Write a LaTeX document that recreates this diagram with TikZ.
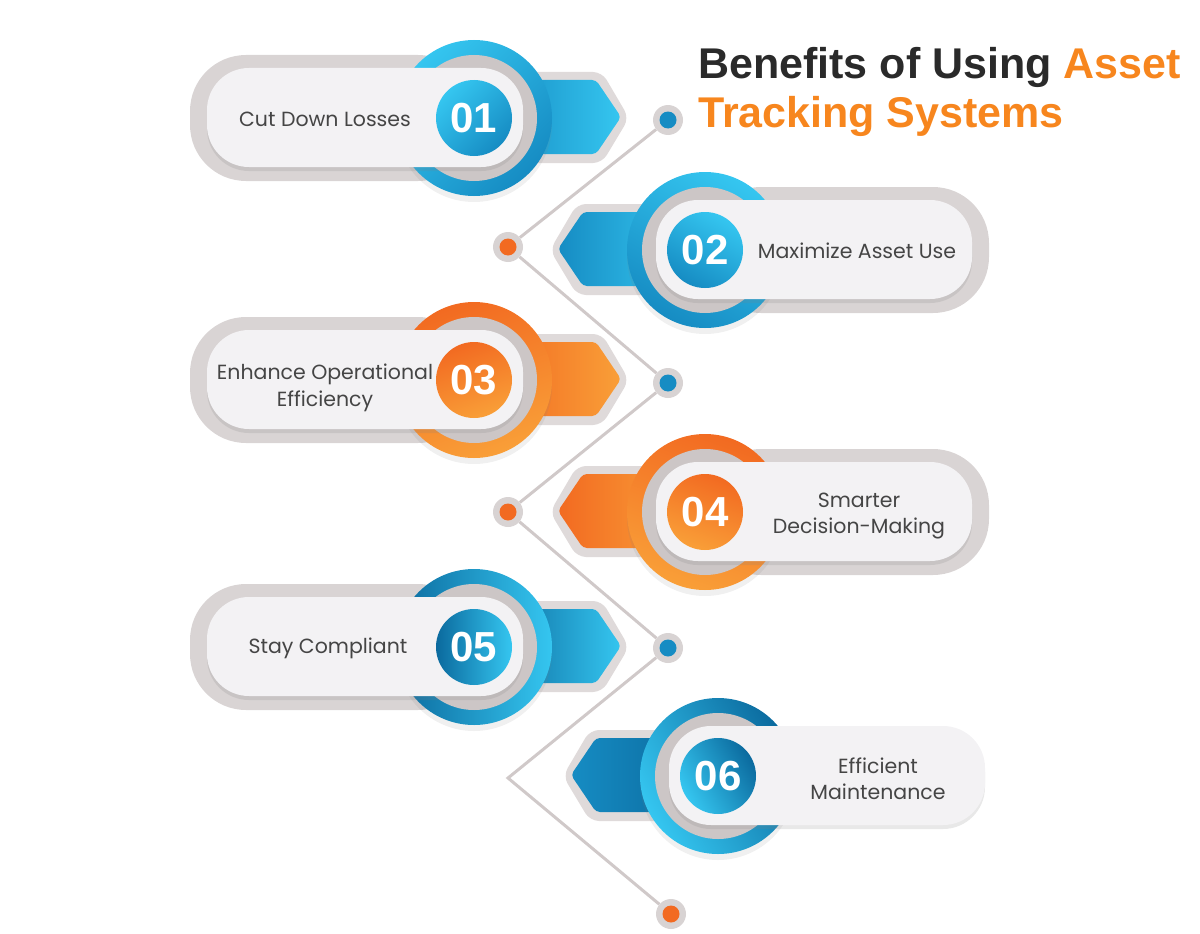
\documentclass[tikz,border=0pt]{standalone}
\usepackage{fontspec}
\setmainfont{Poppins}
\newfontfamily\headfont{Liberation Sans}
\usetikzlibrary{shadows,backgrounds}
\definecolor{skyL}{HTML}{35C6F0}
\definecolor{skyD}{HTML}{168CC3}
\definecolor{seaD}{HTML}{0B6A9E}
\definecolor{amberD}{HTML}{F26A21}
\definecolor{amberL}{HTML}{F99F38}
\definecolor{pillgray}{HTML}{D9D4D4}
\definecolor{discgray}{HTML}{CCC6C6}
\definecolor{boxwhite}{HTML}{F3F2F4}
\definecolor{linkgray}{HTML}{D0C9C9}
\definecolor{dotgray}{HTML}{D8D3D3}
\definecolor{ink}{HTML}{454545}
\definecolor{headink}{HTML}{2A2A2A}
\definecolor{hot}{HTML}{F7861E}
\begin{document}
\begin{tikzpicture}[x=1pt, y=-1pt, line join=round, line cap=round,
	link/.style={draw=linkgray, line width=3pt},
	dot/.style={circle, fill=dotgray, minimum size=30pt, inner sep=0pt,
		path picture={\fill[#1] (path picture bounding box.center) circle (8.5pt);}},
	pill/.style={fill=pillgray, rounded corners=56pt},
	tag/.style={fill=pillgray!85, rounded corners=9pt},
	box/.style={fill=boxwhite, rounded corners=42pt, drop shadow={opacity=.18, shadow xshift=0pt, shadow yshift=-4pt}},
	disc/.style={fill=discgray},
	num/.style={circle, minimum size=76pt, inner sep=0pt, text=white, font=\headfont\bfseries\fontsize{42}{42}\selectfont},
	label/.style={text=ink, align=center, font=\fontsize{20.5}{26.5}\selectfont},
	title/.style={anchor=base west, inner sep=0pt, font=\headfont\bfseries\fontsize{43}{43}\selectfont}]
\useasboundingbox (0,0) rectangle (1200,934);

% title
\node[title, text=headink] (head1) at (698,78) {Benefits of Using \textcolor{hot}{Asset}};
\node[title, text=hot] (head2) at (698,127) {Tracking Systems};

% dots of the zigzag
\foreach \name/\px/\py/\col in {d1/668/120/skyD, d2/508/247/amberD, d3/668/383/skyD, d4/508/512/amberD, d5/668/648/skyD, d7/671/914/amberD}
	\node[dot=\col] (\name) at (\px,\py) {};
\coordinate (d6) at (508,778);
\begin{scope}[on background layer]
	\draw[link] (d1) -- (d2) -- (d3) -- (d4) -- (d5) -- (d6) -- (d7);
\end{scope}

% the six items
\foreach \s/\cx/\cy/\ra/\rb/\ang/\near/\tip/\num/\dx/\dy/\pill/\txt in {
	1/474/118/skyL/skyD/45/skyD/skyL/01/-149/1/1/{Cut Down Losses},
	-1/705/250/skyL/skyD/-30/skyD/skyL/02/152/1/1/{Maximize Asset Use},
	1/474/380/amberD/amberL/20/amberD/amberL/03/-149/8/1/{Enhance Operational\\Efficiency},
	-1/705/512/amberD/amberL/-20/amberD/amberL/04/154/4/1/{Smarter\\Decision-Making},
	1/474/647/seaD/skyL/90/seaD/skyL/05/-146/1/1/{Stay Compliant},
	-1/718/776/seaD/skyL/-60/skyD/seaD/06/160/3/0/{Efficient\\Maintenance}}
{
	\begin{scope}[shift={(\cx,\cy)}, xscale=\s]
		\ifnum\pill=1 \fill[pill] (-284,-63) rectangle (0,63); \fi
		\fill[tag] (20,-46) -- (128,-46) -- (155,0) -- (128,45) -- (20,45) -- cycle;
		\shade[left color=\near, right color=\tip, rounded corners=4pt] (20,-38) -- (122,-38) -- (147,-1) -- (122,36) -- (20,36) -- cycle;
	\end{scope}
	\shade[top color=\ra, bottom color=\rb, shading angle=\ang, drop shadow={opacity=.12, shadow xshift=0pt, shadow yshift=-6pt}] (\cx,\cy) circle (78pt);
	\fill[disc] (\cx,\cy) circle (63pt);
	\begin{scope}[shift={(\cx,\cy)}, xscale=\s]
		\fill[box] (-267,-50) rectangle (49,49);
	\end{scope}
	\node[num, top color=\ra, bottom color=\rb, shading angle=\ang] (n\num) at (\cx,\cy) {\num};
	\node[label] (t\num) at (\cx+\dx,\cy+\dy) {\txt};
}
\end{tikzpicture}
\end{document}
